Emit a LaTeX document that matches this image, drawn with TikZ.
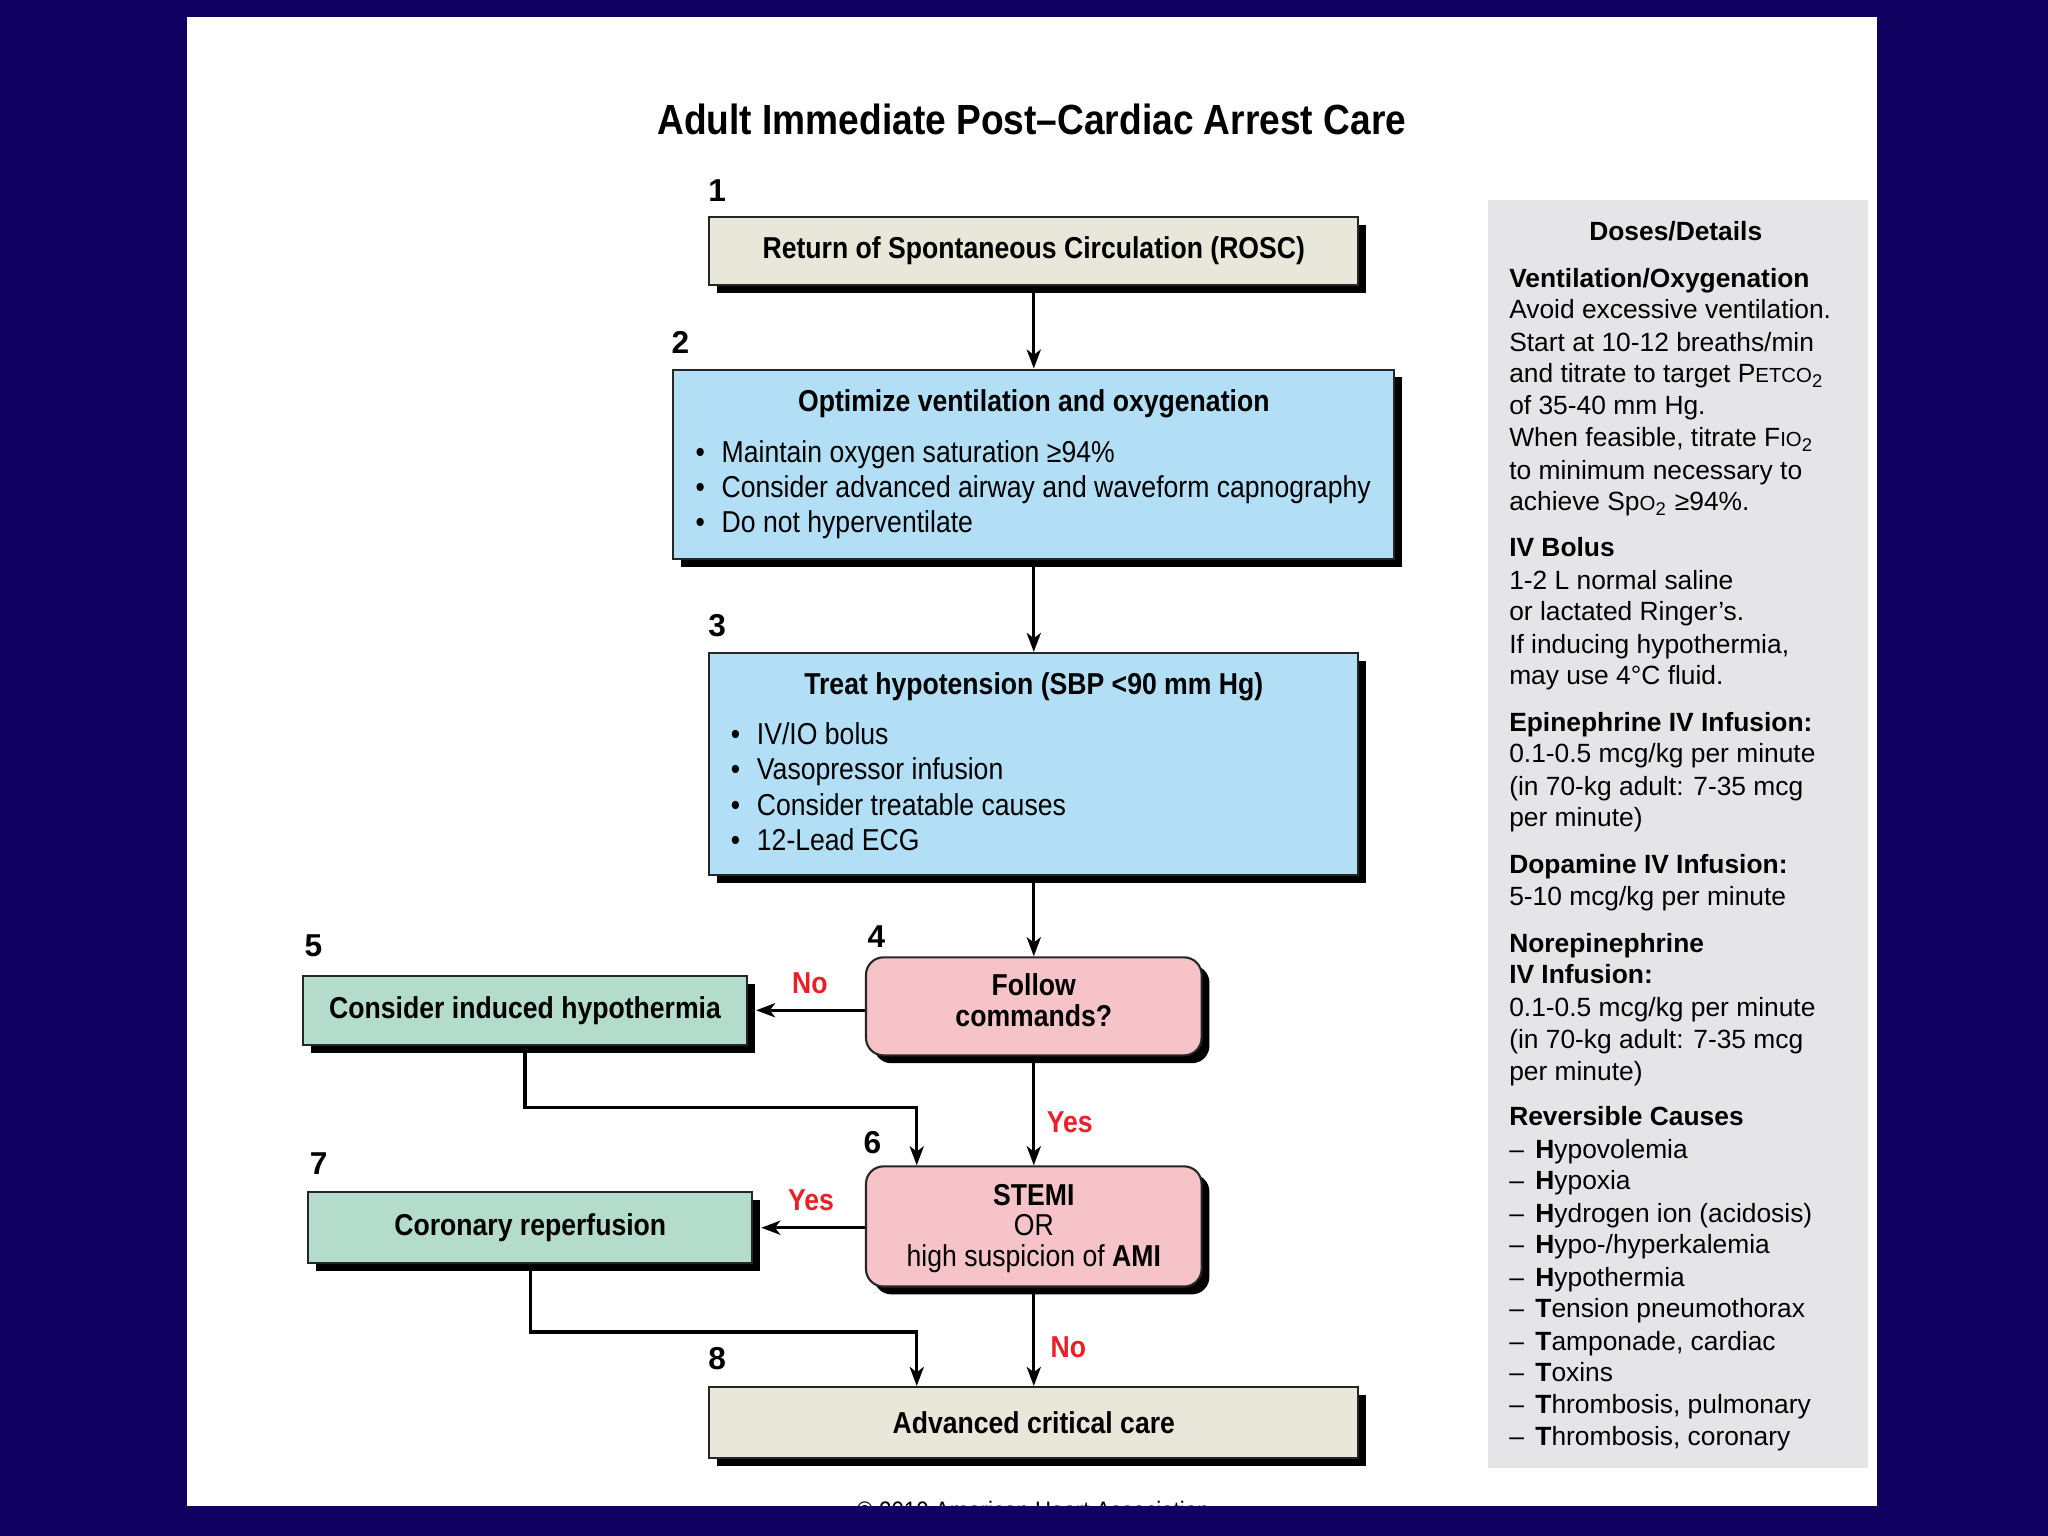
\documentclass[tikz,border=0pt]{standalone}
\usepackage{fontspec}
\setmainfont{Liberation Sans}
\newfontfamily\cf[FakeStretch=0.88]{Liberation Sans}
\usetikzlibrary{arrows.meta,shadows,calc}
\definecolor{navy}{RGB}{16,0,96}
\definecolor{beige}{RGB}{232,231,218}
\definecolor{lblue}{RGB}{178,223,245}
\definecolor{lpink}{RGB}{246,196,200}
\definecolor{lgreen}{RGB}{180,220,204}
\definecolor{panel}{RGB}{229,229,231}
\definecolor{ansred}{RGB}{232,32,40}
\newdimen\uu \uu=0.37163pt
\newcommand\smc[1]{{\fontsize{5.8}{7}\selectfont #1}}
\begin{document}
\begin{tikzpicture}[x=0.0130612cm,y=-0.0130612cm,
  box/.style={draw=black!85, line width=0.6pt, inner sep=0pt,
    font=\cf\bfseries\fontsize{8.6}{10}\selectfont,
    drop shadow={shadow xshift=2.23pt, shadow yshift=-2.23pt, opacity=1, fill=black}},
  rbox/.style={box, rounded corners=5pt, fill=lpink},
  arr/.style={line width=0.95pt, -{Stealth[length=5.4pt,width=4pt,inset=1.5pt]}},
  num/.style={font=\bfseries\fontsize{9}{10}\selectfont, inner sep=0pt},
  ans/.style={font=\cf\bfseries\fontsize{8.6}{10}\selectfont, text=ansred, inner sep=0pt, anchor=base},
  bt/.style={font=\cf\fontsize{8.6}{10}\selectfont, inner sep=0pt, anchor=base west},
  hd/.style={font=\cf\bfseries\fontsize{8.6}{10}\selectfont, inner sep=0pt, anchor=base},
  side/.style={font=\fontsize{7.5}{9}\selectfont, inner sep=0pt, anchor=base west},
]
\useasboundingbox (0,0) rectangle (1568,1176);
\fill[navy] (0,0) rectangle (1568,1176);
\fill[white] (143,13) rectangle (1437,1153);
\fill[panel] (1139,153) rectangle (1430,1124);

% title
\node[font=\cf\bfseries\fontsize{12}{14}\selectfont, inner sep=0pt, anchor=base] (title) at (790,103) {Adult Immediate Post–Cardiac Arrest Care};

% boxes
\node[box, fill=beige, minimum width=184.7pt, minimum height=19.3pt] (b1) at (791.5,192) {Return of Spontaneous Circulation (ROSC)};
\node[box, fill=lblue, minimum width=205.1pt, minimum height=53.9pt] (b2) at (791.5,355.5) {};
\node[box, fill=lblue, minimum width=184.7pt, minimum height=63.2pt] (b3) at (791.5,585) {};
\node[rbox, minimum width=95.5pt, minimum height=27.9pt] (b4) at (791.5,770.5) {};
\node[box, fill=lgreen, minimum width=126.4pt, minimum height=19.7pt] (b5) at (402,773.5) {Consider induced hypothermia};
\node[rbox, minimum width=95.5pt, minimum height=34.2pt] (b6) at (791.5,939) {};
\node[box, fill=lgreen, minimum width=126.4pt, minimum height=20.1pt] (b7) at (406,940) {Coronary reperfusion};
\node[box, fill=beige, minimum width=184.7pt, minimum height=20.1pt] (b8) at (791.5,1089) {Advanced critical care};

% box texts
\node[hd] (h2) at (791.5,315) {Optimize ventilation and oxygenation};
\node[bt] (l21) at (532,354) {\makebox[20\uu][l]{\textbullet}Maintain oxygen saturation ≥94\%};
\node[bt] (l22) at (532,381) {\makebox[20\uu][l]{\textbullet}Consider advanced airway and waveform capnography};
\node[bt] (l23) at (532,408) {\makebox[20\uu][l]{\textbullet}Do not hyperventilate};

\node[hd] (h3) at (791.5,532) {Treat hypotension (SBP <90 mm Hg)};
\node[bt] (l31) at (559,570) {\makebox[20\uu][l]{\textbullet}IV/IO bolus};
\node[bt] (l32) at (559,597) {\makebox[20\uu][l]{\textbullet}Vasopressor infusion};
\node[bt] (l33) at (559,624) {\makebox[20\uu][l]{\textbullet}Consider treatable causes};
\node[bt] (l34) at (559,651) {\makebox[20\uu][l]{\textbullet}12-Lead ECG};

\node[hd] (t41) at (791.5,762) {Follow};
\node[hd] (t42) at (791.5,786) {commands?};

\node[hd] (t61) at (791.5,923) {STEMI};
\node[hd, font=\cf\fontsize{8.6}{10}\selectfont] (t62) at (791.5,946) {OR};
\node[hd, font=\cf\fontsize{8.6}{10}\selectfont] (t63) at (791.5,970) {high suspicion of \textbf{AMI}};

% step numbers
\node[num] (n1) at (549,146) {1};
\node[num] (n2) at (521,262) {2};
\node[num] (n3) at (549,479) {3};
\node[num] (n4) at (671,717) {4};
\node[num] (n5) at (240,724) {5};
\node[num] (n6) at (668,875) {6};
\node[num] (n7) at (244,891) {7};
\node[num] (n8) at (549,1040) {8};

% connectors
\draw[arr] (b1.south) -- (b2.north);
\draw[arr] (b2.south) -- (b3.north);
\draw[arr] (b3.south) -- (b4.north);
\draw[arr] (b4.west |- b5.east) -- ([xshift=2.23pt]b5.east);
\node[ans] (no1) at (620,761) {No};
\draw[arr] (b4.south) -- (b6.north);
\node[ans] (yes1) at (819,867) {Yes};
\draw[arr] (b5.south) -- ++(0,47) -| ([xshift=-33.3pt]b6.north);
\draw[arr] (b6.west |- b7.east) -- ([xshift=2.23pt]b7.east);
\node[ans] (yes2) at (621,927) {Yes};
\draw[arr] (b6.south) -- (b8.north);
\node[ans] (no2) at (818,1039) {No};
\draw[arr] (b7.south) -- ++(0,52) -| ([xshift=-33.3pt]b8.north);

% side panel
\node[side, font=\bfseries\fontsize{7.5}{9}\selectfont, anchor=base] (dd) at (1283,184) {Doses/Details};
\foreach \yy/\tt in {
  220/{\textbf{Ventilation/Oxygenation}},
  244/{Avoid excessive ventilation.},
  269/{Start at 10-12 breaths/min},
  293/{and titrate to target P\smc{ETCO}\textsubscript{2}},
  317/{of 35-40 mm Hg.},
  342/{When feasible, titrate F\smc{IO}\textsubscript{2}},
  367/{to minimum necessary to},
  391/{achieve Sp\smc{O}\textsubscript{2} ≥94\%.},
  426/{\textbf{IV Bolus}},
  451/{1-2 L normal saline},
  475/{or lactated Ringer’s.},
  500/{If inducing hypothermia,},
  524/{may use 4°C fluid.},
  560/{\textbf{Epinephrine IV Infusion:}},
  584/{0.1-0.5 mcg/kg per minute},
  609/{(in 70-kg adult: 7-35 mcg},
  633/{per minute)},
  669/{\textbf{Dopamine IV Infusion:}},
  693/{5-10 mcg/kg per minute},
  729/{\textbf{Norepinephrine}},
  753/{\textbf{IV Infusion:}},
  778/{0.1-0.5 mcg/kg per minute},
  803/{(in 70-kg adult: 7-35 mcg},
  827/{per minute)},
  862/{\textbf{Reversible Causes}}}
  \node[side] (s\yy) at (1155,\yy) {\tt};
\foreach \yy/\ll/\rr in {
  887/H/{ypovolemia},
  911/H/{ypoxia},
  936/H/{ydrogen ion (acidosis)},
  960/H/{ypo-/hyperkalemia},
  985/H/{ypothermia},
  1009/T/{ension pneumothorax},
  1034/T/{amponade, cardiac},
  1058/T/{oxins},
  1082/T/{hrombosis, pulmonary},
  1107/T/{hrombosis, coronary}}
  \node[side] (r\yy) at (1155,\yy) {\makebox[20\uu][l]{–}\textbf{\ll}\rr};

% copyright, cut by the frame
\begin{scope}
\clip (143,13) rectangle (1437,1153);
\node[font=\cf\fontsize{7.2}{9}\selectfont, anchor=base, inner sep=0pt] (copy) at (791,1163) {© 2010 American Heart Association};
\end{scope}
\end{tikzpicture}
\end{document}
